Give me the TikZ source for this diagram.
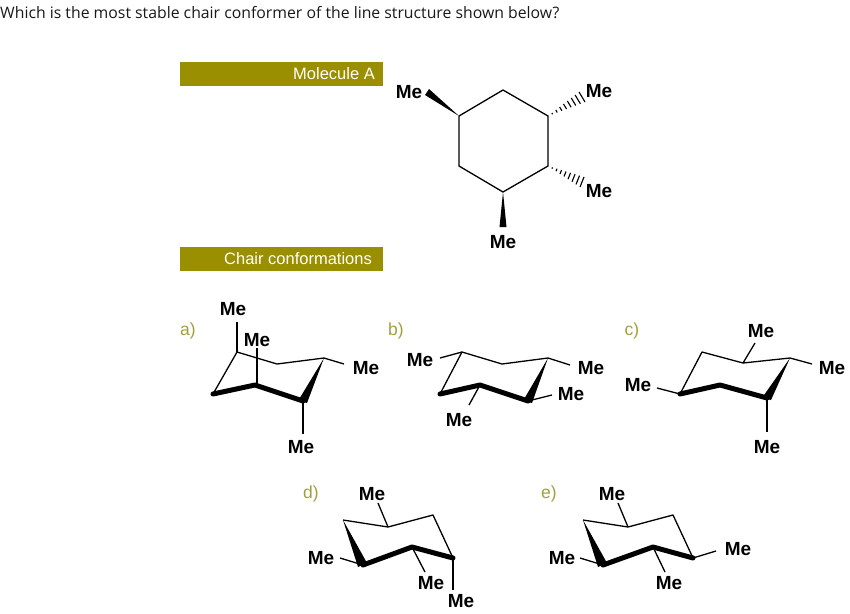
\documentclass[tikz,border=0pt]{standalone}
\usepackage{fontspec}
\usetikzlibrary{calc}
\setmainfont{Liberation Sans}
\newfontfamily\titlefont{Open Sans}
\begin{document}
\begin{tikzpicture}[x=1pt,y=-1pt,
 thin bond/.style={line width=1.3pt,line join=round},
 bold bond/.style={line width=5pt,line join=round,line cap=round},
 me/.style={font=\fontsize{19}{19}\selectfont\bfseries,inner sep=0pt},
 lab/.style={font=\fontsize{17.5}{17.5}\selectfont,text={rgb,255:red,160;green,160;blue,60},inner sep=0pt},
 banner/.style={fill={rgb,255:red,153;green,143;blue,0},minimum height=24pt,inner sep=0pt},
 wedge/.style={fill=black}]
\useasboundingbox (0,0) rectangle (850,613);
\node[anchor=west,inner sep=0pt,font=\titlefont\fontsize{15.8}{15.8}\selectfont,text={rgb,255:red,25;green,25;blue,25}] (title) at (0,13) {Which is the most stable chair conformer of the line structure shown below?};
\node[banner,minimum width=203pt,anchor=north west] (b1) at (180,62) {};
\node[text=white,font=\fontsize{16.5}{16.5}\selectfont,inner sep=0pt] (b1t) at (334,74) {Molecule A};
\node[banner,minimum width=203pt,anchor=north west] (b2) at (180,247) {};
\node[text=white,font=\fontsize{16.5}{16.5}\selectfont,inner sep=0pt] (b2t) at (298,259) {Chair conformations};
% Molecule A
\coordinate (t) at (503,90); \coordinate (ur) at (548,116); \coordinate (lr) at (548,166);
\coordinate (bo) at (503,192); \coordinate (ll) at (459,166); \coordinate (ul) at (459,116);
\draw[thin bond] (ul)--(t)--(ur)--(lr)--(bo)--(ll)--cycle;
\node[me] (m1) at (409,92) {Me};
\fill[wedge] (ul) -- (425,95) -- (429,89) -- cycle;
\node[me] (m2) at (599,91) {Me};
\foreach \i in {0,...,8}{\pgfmathsetmacro\f{\i/8}
 \draw[line width=1.1pt] ($(ur)!\f!(582,97)+(-\f*3,-\f*5)$) -- ($(ur)!\f!(582,97)+(\f*3,\f*5)$);}
\node[me] (m3) at (599,191) {Me};
\foreach \i in {0,...,8}{\pgfmathsetmacro\f{\i/8}
 \draw[line width=1.1pt] ($(lr)!\f!(582,182)+(\f*2,-\f*5)$) -- ($(lr)!\f!(582,182)+(-\f*2,\f*5)$);}
\fill[wedge] (bo) -- (499.5,227) -- (506.5,227) -- cycle;
\node[me] (m4) at (503,242) {Me};
% a
\node[lab] (la) at (188,331) {a)};
\draw[thin bond] (257,347)--(257,385);
\draw[thin bond] (255,385)--(213,394)--(237,352)--(277,364)--(324,358);
\draw[bold bond] (213,394)--(255,385)--(303,401);
\fill[wedge] (324,358)--(298,401)--(307,403)--cycle;
\draw[thin bond] (237,352)--(237,322); \node[me] (a1) at (233,309) {Me};
\node[me,fill=white,inner sep=1pt] (a2) at (257,340) {Me};
\draw[thin bond] (324,358)--(344,364); \node[me] (a3) at (366,368) {Me};
\draw[thin bond] (303,401)--(303,434); \node[me] (a4) at (301,447) {Me};
% b
\node[lab] (lb) at (396,331) {b)};
\draw[thin bond] (480,385)--(440,394)--(462,352)--(502,364)--(548,358);
\draw[bold bond] (440,394)--(480,385)--(528,401);
\fill[wedge] (548,358)--(523,401)--(532,403)--cycle;
\draw[thin bond] (462,352)--(440,358); \node[me] (b1m) at (420,360) {Me};
\draw[thin bond] (548,358)--(570,365); \node[me] (b2m) at (591,368) {Me};
\draw[thin bond] (528,401)--(552,395); \node[me] (b3m) at (571,394) {Me};
\draw[thin bond] (480,385)--(469,405); \node[me] (b4m) at (459,420) {Me};
% c
\node[lab] (lc) at (632,331) {c)};
\draw[thin bond] (680,394)--(702,352)--(743,363)--(790,358);
\draw[bold bond] (680,394)--(720,385)--(767,398);
\fill[wedge] (790,358)--(762,398)--(771,400)--cycle;
\draw[thin bond] (680,394)--(657,388); \node[me] (c1) at (638,385) {Me};
\draw[thin bond] (743,363)--(755,343); \node[me] (c2) at (761,331) {Me};
\draw[thin bond] (790,358)--(812,364); \node[me] (c3) at (832,368) {Me};
\draw[thin bond] (767,398)--(767,432); \node[me] (c4) at (767,447) {Me};
% d
\node[lab] (ld) at (311,494) {d)};
\draw[thin bond] (343,520)--(388,527)--(433,515)--(453,558);
\draw[bold bond] (363,565)--(412,547)--(453,558);
\fill[wedge] (343,520)--(358,567)--(367,563)--cycle;
\draw[thin bond] (388,527)--(378,503); \node[me] (d1) at (372,494) {Me};
\draw[thin bond] (363,565)--(340,558); \node[me] (d2) at (321,558) {Me};
\draw[thin bond] (412,547)--(425,572); \node[me] (d3) at (431,583) {Me};
\draw[thin bond] (453,558)--(453,590); \node[me] (d4) at (461,601) {Me};
% e
\node[lab] (le) at (549,494) {e)};
\draw[thin bond] (583,520)--(628,527)--(673,515)--(693,558);
\draw[bold bond] (603,565)--(653,547)--(693,558);
\fill[wedge] (583,520)--(598,567)--(607,563)--cycle;
\draw[thin bond] (628,527)--(618,503); \node[me] (e1) at (612,494) {Me};
\draw[thin bond] (603,565)--(580,558); \node[me] (e2) at (562,558) {Me};
\draw[thin bond] (653,547)--(665,572); \node[me] (e3) at (669,583) {Me};
\draw[thin bond] (693,558)--(716,551); \node[me] (e4) at (738,549) {Me};
\end{tikzpicture}
\end{document}
